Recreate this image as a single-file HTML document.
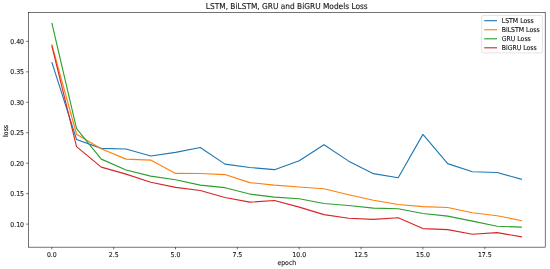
<!DOCTYPE html>
<html lang="en"><head><meta charset="utf-8"><title>LSTM, BiLSTM, GRU and BiGRU Models Loss</title>
<style>html,body{margin:0;padding:0;background:#fff;}body{width:550px;height:269px;overflow:hidden;}svg{display:block;}text{font-family:"DejaVu Sans", "Liberation Sans", sans-serif;fill:#1a1a1a;stroke:#1a1a1a;stroke-width:0.12px;stroke-linejoin:round;}</style></head><body>
<svg xmlns="http://www.w3.org/2000/svg" width="550" height="269" viewBox="0 0 550 269">
<rect x="0" y="0" width="550" height="269" fill="#ffffff"/>
<text transform="translate(286.80,8.80) scale(1,1.090)" font-size="7.44" text-anchor="middle">LSTM, BiLSTM, GRU and BiGRU Models Loss</text>
<g fill="none" stroke-width="1.12" stroke-linejoin="round" stroke-linecap="butt">
<polyline stroke="#1f77b4" points="51.80,62.11 76.54,139.45 101.28,148.40 126.03,149.01 150.77,156.07 175.51,152.42 200.25,147.43 224.99,164.11 249.74,167.52 274.48,169.66 299.22,160.70 323.96,144.69 348.70,161.13 373.45,173.67 398.19,177.82 422.93,134.39 447.67,163.63 472.41,171.73 497.16,172.52 521.90,179.40"/>
<polyline stroke="#ff7f0e" points="51.80,44.45 76.54,134.27 101.28,148.77 126.03,159.12 150.77,160.09 175.51,173.43 200.25,173.55 224.99,174.59 249.74,182.63 274.48,185.12 299.22,187.01 323.96,188.72 348.70,194.69 373.45,200.23 398.19,204.49 422.93,206.68 447.67,207.47 472.41,212.71 497.16,215.70 521.90,220.69"/>
<polyline stroke="#2ca02c" points="51.80,22.83 76.54,128.61 101.28,159.12 126.03,170.08 150.77,176.11 175.51,179.70 200.25,185.12 224.99,187.68 249.74,194.08 274.48,197.12 299.22,198.70 323.96,203.52 348.70,205.53 373.45,208.08 398.19,208.69 422.93,213.50 447.67,216.12 472.41,221.12 497.16,226.29 521.90,227.08"/>
<polyline stroke="#d62728" points="51.80,45.66 76.54,146.57 101.28,167.10 126.03,174.10 150.77,182.20 175.51,187.38 200.25,190.48 224.99,197.49 249.74,202.12 274.48,200.47 299.22,207.11 323.96,214.60 348.70,218.19 373.45,219.35 398.19,217.71 422.93,228.61 447.67,229.58 472.41,234.21 497.16,232.63 521.90,236.83"/>
</g>
<g stroke="#000" stroke-width="0.55">
<line x1="51.80" y1="247.15" x2="51.80" y2="249.39"/>
<line x1="113.66" y1="247.15" x2="113.66" y2="249.39"/>
<line x1="175.51" y1="247.15" x2="175.51" y2="249.39"/>
<line x1="237.37" y1="247.15" x2="237.37" y2="249.39"/>
<line x1="299.22" y1="247.15" x2="299.22" y2="249.39"/>
<line x1="361.08" y1="247.15" x2="361.08" y2="249.39"/>
<line x1="422.93" y1="247.15" x2="422.93" y2="249.39"/>
<line x1="484.79" y1="247.15" x2="484.79" y2="249.39"/>
<line x1="26.16" y1="224.10" x2="28.40" y2="224.10"/>
<line x1="26.16" y1="193.65" x2="28.40" y2="193.65"/>
<line x1="26.16" y1="163.20" x2="28.40" y2="163.20"/>
<line x1="26.16" y1="132.75" x2="28.40" y2="132.75"/>
<line x1="26.16" y1="102.30" x2="28.40" y2="102.30"/>
<line x1="26.16" y1="71.85" x2="28.40" y2="71.85"/>
<line x1="26.16" y1="41.40" x2="28.40" y2="41.40"/>
</g>
<g font-size="6.20">
<text transform="translate(51.80,256.80) scale(1,1.090)" font-size="6.20" text-anchor="middle">0.0</text>
<text transform="translate(113.66,256.80) scale(1,1.090)" font-size="6.20" text-anchor="middle">2.5</text>
<text transform="translate(175.51,256.80) scale(1,1.090)" font-size="6.20" text-anchor="middle">5.0</text>
<text transform="translate(237.37,256.80) scale(1,1.090)" font-size="6.20" text-anchor="middle">7.5</text>
<text transform="translate(299.22,256.80) scale(1,1.090)" font-size="6.20" text-anchor="middle">10.0</text>
<text transform="translate(361.08,256.80) scale(1,1.090)" font-size="6.20" text-anchor="middle">12.5</text>
<text transform="translate(422.93,256.80) scale(1,1.090)" font-size="6.20" text-anchor="middle">15.0</text>
<text transform="translate(484.79,256.80) scale(1,1.090)" font-size="6.20" text-anchor="middle">17.5</text>
<text transform="translate(24.00,226.55) scale(1,1.090)" font-size="6.20" text-anchor="end">0.10</text>
<text transform="translate(24.00,196.10) scale(1,1.090)" font-size="6.20" text-anchor="end">0.15</text>
<text transform="translate(24.00,165.65) scale(1,1.090)" font-size="6.20" text-anchor="end">0.20</text>
<text transform="translate(24.00,135.20) scale(1,1.090)" font-size="6.20" text-anchor="end">0.25</text>
<text transform="translate(24.00,104.75) scale(1,1.090)" font-size="6.20" text-anchor="end">0.30</text>
<text transform="translate(24.00,74.30) scale(1,1.090)" font-size="6.20" text-anchor="end">0.35</text>
<text transform="translate(24.00,43.85) scale(1,1.090)" font-size="6.20" text-anchor="end">0.40</text>
</g>
<text transform="translate(286.80,265.10) scale(1,1.090)" font-size="6.20" text-anchor="middle">epoch</text>
<text transform="translate(7.80,130.90) rotate(-90) scale(1,1.090)" font-size="6.20" text-anchor="middle">loss</text>
<rect x="28.40" y="12.40" width="516.80" height="234.75" fill="none" stroke="#000" stroke-width="0.55"/>
<rect x="481.70" y="15.40" width="60.70" height="37.50" rx="1.3" ry="1.3" fill="#ffffff" fill-opacity="0.8" stroke="#cccccc" stroke-opacity="0.8" stroke-width="0.65"/>
<line x1="484.20" y1="20.70" x2="497.00" y2="20.70" stroke="#1f77b4" stroke-width="1.12"/>
<text transform="translate(501.70,23.10) scale(1,1.090)" font-size="6.20">LSTM Loss</text>
<line x1="484.20" y1="29.75" x2="497.00" y2="29.75" stroke="#ff7f0e" stroke-width="1.12"/>
<text transform="translate(501.70,32.15) scale(1,1.090)" font-size="6.20">BiLSTM Loss</text>
<line x1="484.20" y1="38.80" x2="497.00" y2="38.80" stroke="#2ca02c" stroke-width="1.12"/>
<text transform="translate(501.70,41.20) scale(1,1.090)" font-size="6.20">GRU Loss</text>
<line x1="484.20" y1="47.80" x2="497.00" y2="47.80" stroke="#d62728" stroke-width="1.12"/>
<text transform="translate(501.70,50.20) scale(1,1.090)" font-size="6.20">BiGRU Loss</text>
</svg></body></html>
